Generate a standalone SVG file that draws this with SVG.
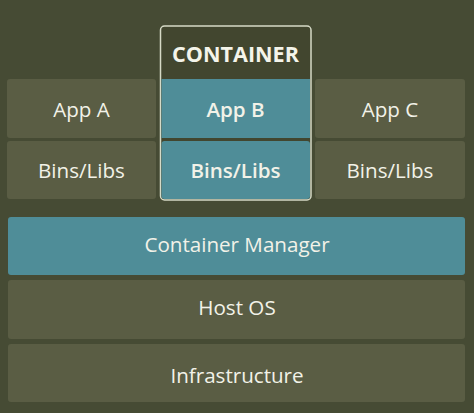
<svg xmlns="http://www.w3.org/2000/svg" width="474" height="413" viewBox="0 0 474 413">
<style>
.bg{fill:#464b34}
.box{fill:#5a5d44}
.teal{fill:#4f8d98}
.t{font-family:"Open Sans","Noto Sans",sans-serif;font-size:20.6px;fill:#f2f2e8;text-anchor:middle}
.b{font-weight:600}
.h{font-family:"Open Sans","Noto Sans",sans-serif;font-size:21.6px;font-weight:700;fill:#f4f4ea;text-anchor:middle}
</style>
<rect class="bg" x="0" y="0" width="474" height="413"/>
<g id="container">
<rect x="160.5" y="26" width="150.5" height="174" rx="4" fill="#42462f" stroke="#d6dac6" stroke-width="1.5"/>
<text class="h" x="235.5" y="62">CONTAINER</text>
</g>
<g id="appA"><rect class="box" x="7" y="79" width="149" height="59" rx="3"/><text class="t" x="81.5" y="117">App A</text></g>
<g id="binsA"><rect class="box" x="7" y="141" width="149" height="58" rx="3"/><text class="t" x="81.5" y="178">Bins/Libs</text></g>
<g id="appB"><rect class="teal" x="161.5" y="79" width="148.5" height="59"/><text class="t b" x="235.5" y="117">App B</text></g>
<g id="binsB"><rect class="teal" x="161.5" y="141" width="148.5" height="58" rx="3"/><text class="t b" x="235.5" y="178">Bins/Libs</text></g>
<g id="appC"><rect class="box" x="315" y="79" width="150" height="59" rx="3"/><text class="t" x="390" y="117">App C</text></g>
<g id="binsC"><rect class="box" x="315" y="141" width="150" height="58" rx="3"/><text class="t" x="390" y="178">Bins/Libs</text></g>
<g id="manager"><rect class="teal" x="8" y="217" width="457" height="58" rx="3"/><text class="t" x="237" y="252">Container Manager</text></g>
<g id="hostos"><rect class="box" x="8" y="280" width="457" height="59" rx="3"/><text class="t" x="237" y="315">Host OS</text></g>
<g id="infra"><rect class="box" x="8" y="344" width="457" height="58" rx="3"/><text class="t" x="237" y="383">Infrastructure</text></g>
<g id="connectors"/>
</svg>
